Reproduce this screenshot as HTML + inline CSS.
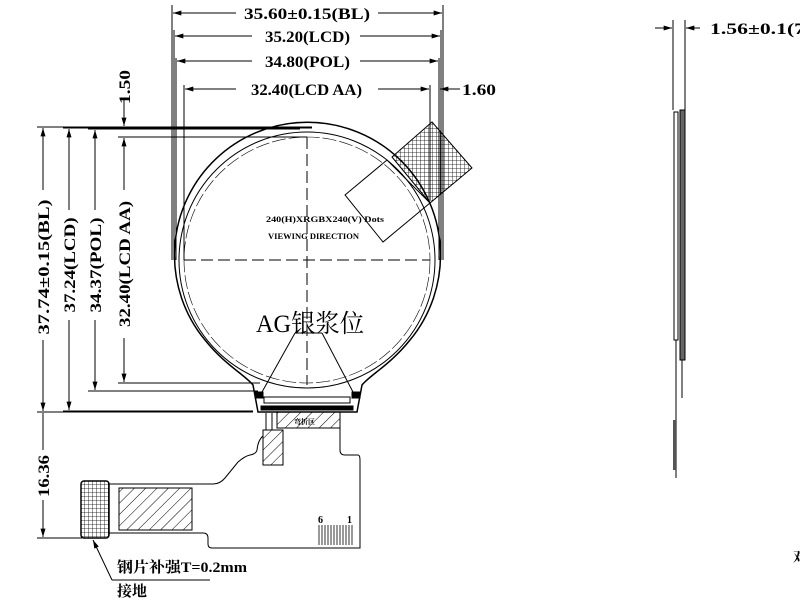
<!DOCTYPE html>
<html><head><meta charset="utf-8"><style>
html,body{margin:0;padding:0;background:#fff;width:800px;height:600px;overflow:hidden}
text{font-family:"Liberation Serif","Noto Serif CJK SC",serif;fill:#000}
</style></head><body>
<svg width="800" height="600" viewBox="0 0 800 600" xmlns="http://www.w3.org/2000/svg">
<defs>
<pattern id="h" width="8" height="8" patternUnits="userSpaceOnUse" patternTransform="rotate(45)"><line x1="0" y1="0" x2="0" y2="8" stroke="#000" stroke-width="1"/></pattern>
<pattern id="g" width="4" height="4" patternUnits="userSpaceOnUse"><path d="M0 0H4M0 0V4" stroke="#000" stroke-width="0.8" fill="none"/></pattern>
<marker id="a" viewBox="0 0 10 6" refX="10" refY="3" markerWidth="10" markerHeight="5" orient="auto-start-reverse"><path d="M0 0L10 3L0 6z" fill="#000"/></marker>
</defs>
<g stroke="#000" fill="none" stroke-width="1">
<line x1="172" y1="5" x2="172" y2="260"/><line x1="174" y1="30" x2="174" y2="260"/><line x1="176" y1="58" x2="176" y2="260"/>
<line x1="443" y1="5" x2="443" y2="260"/><line x1="441" y1="30" x2="441" y2="260"/><line x1="439" y1="58" x2="439" y2="260"/>
<line x1="184" y1="85" x2="184" y2="260"/><line x1="430" y1="85" x2="430" y2="200"/>
<line x1="173" y1="13" x2="236" y2="13" marker-start="url(#a)"/><line x1="378" y1="13" x2="442" y2="13" marker-end="url(#a)"/>
<line x1="175" y1="36" x2="252" y2="36" marker-start="url(#a)"/><line x1="360" y1="36" x2="440" y2="36" marker-end="url(#a)"/>
<line x1="177" y1="61" x2="252" y2="61" marker-start="url(#a)"/><line x1="360" y1="61" x2="438" y2="61" marker-end="url(#a)"/>
<line x1="185" y1="89" x2="236" y2="89" marker-start="url(#a)"/><line x1="378" y1="89" x2="429" y2="89" marker-end="url(#a)"/>
<line x1="440" y1="89" x2="460" y2="89" marker-start="url(#a)"/>
<line x1="37" y1="127" x2="312" y2="127"/><line x1="63" y1="128" x2="312" y2="128"/><line x1="88" y1="129" x2="300" y2="129"/><line x1="118" y1="137" x2="307" y2="137"/>
<line x1="124" y1="100" x2="124" y2="126" marker-end="url(#a)"/><line x1="124" y1="160" x2="124" y2="138" marker-end="url(#a)"/>
<line x1="37" y1="412" x2="253" y2="412"/><line x1="63" y1="411" x2="253" y2="411"/><line x1="88" y1="391" x2="258" y2="391"/><line x1="118" y1="383" x2="260" y2="383"/>
<line x1="37" y1="538" x2="82" y2="538"/>
<line x1="43" y1="190" x2="43" y2="128" marker-end="url(#a)"/><line x1="43" y1="340" x2="43" y2="411" marker-end="url(#a)"/>
<line x1="69" y1="210" x2="69" y2="129" marker-end="url(#a)"/><line x1="69" y1="320" x2="69" y2="410" marker-end="url(#a)"/>
<line x1="95" y1="210" x2="95" y2="130" marker-end="url(#a)"/><line x1="95" y1="320" x2="95" y2="390" marker-end="url(#a)"/>
<line x1="124" y1="190" x2="124" y2="138"/><line x1="124" y1="338" x2="124" y2="382" marker-end="url(#a)"/>
<line x1="43" y1="413" x2="43" y2="450"/><line x1="43" y1="500" x2="43" y2="537" marker-end="url(#a)"/>
<path d="M253 385 C245 375 225 365 205 340 A133 133 0 1 1 410 340 C390 365 370 375 362 385 L357 412 L258 412 Z" stroke-width="1.5"/>
<circle cx="307" cy="260" r="128"/>
<circle cx="307" cy="260" r="123" stroke-dasharray="14 3" stroke-width="0.6"/>
<line x1="307" y1="137" x2="307" y2="385" stroke-dasharray="12 5"/>
<line x1="184" y1="260" x2="430" y2="260" stroke-dasharray="12 5"/>
<rect x="264" y="397" width="86" height="6"/>
<rect x="261" y="406" width="92" height="4" fill="#000"/>
<rect x="255" y="392" width="8" height="6" fill="#000"/><rect x="352" y="392" width="8" height="6" fill="#000"/>
<line x1="262" y1="392" x2="295" y2="333"/><line x1="353" y1="392" x2="322" y2="333"/><line x1="295" y1="333" x2="322" y2="333"/>
<polygon points="345,195 387,160 430,203 383,242"/>
<polygon points="392,157 432,122 472,168 430,203" fill="url(#g)"/>
<rect x="277" y="412" width="63" height="16" fill="url(#h)"/>
<rect x="263" y="430" width="20" height="35" fill="url(#h)"/>
<line x1="266" y1="413" x2="266" y2="430"/><line x1="272" y1="413" x2="272" y2="430"/>
<path d="M340 412 V450 Q340 455 345 455 H358 Q360 455 360 460 V548 H212 Q208 548 208 544 V538 Q208 533 203 533 H109"/>
<path d="M263 436 Q258 440 257 450 Q256 454 250 455 Q245 456 238 462 L225 478 Q220 484 213 484 H109"/>
<rect x="81" y="481" width="28" height="57" rx="3" fill="url(#g)" stroke-width="1.5"/>
<rect x="119" y="488" width="73" height="42" fill="url(#h)"/>
<path d="M319 525V545M322 525V545M325 525V545M328 525V545M331 525V545M334 525V545M337 525V545M340 525V545M343 525V545M346 525V545M349 525V545M352 525V545" stroke-width="0.8"/>
<line x1="93" y1="540" x2="112" y2="580" marker-start="url(#a)"/><line x1="112" y1="580" x2="210" y2="580"/>
<line x1="655" y1="28" x2="672" y2="28" marker-end="url(#a)"/><line x1="700" y1="28" x2="686" y2="28" marker-end="url(#a)"/>
<line x1="673" y1="20" x2="673" y2="110"/><line x1="685" y1="20" x2="685" y2="110"/>
<rect x="674" y="112" width="4" height="228"/>
<rect x="680" y="110" width="5" height="250" fill="#666"/>
<line x1="682" y1="360" x2="682" y2="398"/>
<line x1="676" y1="340" x2="676" y2="478"/>
<rect x="673" y="420" width="3" height="50" fill="#555" stroke="none"/>
</g>
<g font-size="16" font-weight="bold">
<text x="244" y="19" textLength="126" lengthAdjust="spacingAndGlyphs">35.60±0.15(BL)</text>
<text x="265" y="42" textLength="85" lengthAdjust="spacingAndGlyphs">35.20(LCD)</text>
<text x="265" y="67" textLength="85" lengthAdjust="spacingAndGlyphs">34.80(POL)</text>
<text x="251" y="95" textLength="111" lengthAdjust="spacingAndGlyphs">32.40(LCD AA)</text>
<text x="462" y="95" textLength="34" lengthAdjust="spacingAndGlyphs">1.60</text>
<text x="710" y="34" textLength="95" lengthAdjust="spacingAndGlyphs">1.56±0.1(7</text>
<text transform="translate(130,87) rotate(-90)" text-anchor="middle" textLength="34" lengthAdjust="spacingAndGlyphs">1.50</text>
<text transform="translate(49,267) rotate(-90)" text-anchor="middle" textLength="135" lengthAdjust="spacingAndGlyphs">37.74±0.15(BL)</text>
<text transform="translate(75,265) rotate(-90)" text-anchor="middle" textLength="95" lengthAdjust="spacingAndGlyphs">37.24(LCD)</text>
<text transform="translate(101,265) rotate(-90)" text-anchor="middle" textLength="95" lengthAdjust="spacingAndGlyphs">34.37(POL)</text>
<text transform="translate(130,264) rotate(-90)" text-anchor="middle" textLength="126" lengthAdjust="spacingAndGlyphs">32.40(LCD AA)</text>
<text transform="translate(49,476) rotate(-90)" text-anchor="middle" textLength="42" lengthAdjust="spacingAndGlyphs">16.36</text>
<text x="117" y="572" font-size="15" textLength="130" lengthAdjust="spacingAndGlyphs">钢片补强T=0.2mm</text>
<text x="117" y="596" font-size="15">接地</text>
<text x="793" y="562" font-size="14">对</text>
</g>
<text x="256" y="332" font-size="25" textLength="108" lengthAdjust="spacingAndGlyphs">AG银浆位</text>
<text x="266" y="222" font-size="8" font-weight="bold" textLength="118" lengthAdjust="spacingAndGlyphs">240(H)XRGBX240(V) Dots</text>
<text x="268" y="239" font-size="8" font-weight="bold" textLength="91" lengthAdjust="spacingAndGlyphs">VIEWING DIRECTION</text>
<text x="294" y="424" font-size="7" font-weight="bold">弯折区</text>
<text x="318" y="523" font-size="10" font-weight="bold">6</text>
<text x="347" y="523" font-size="10" font-weight="bold">1</text>
</svg>
</body></html>
